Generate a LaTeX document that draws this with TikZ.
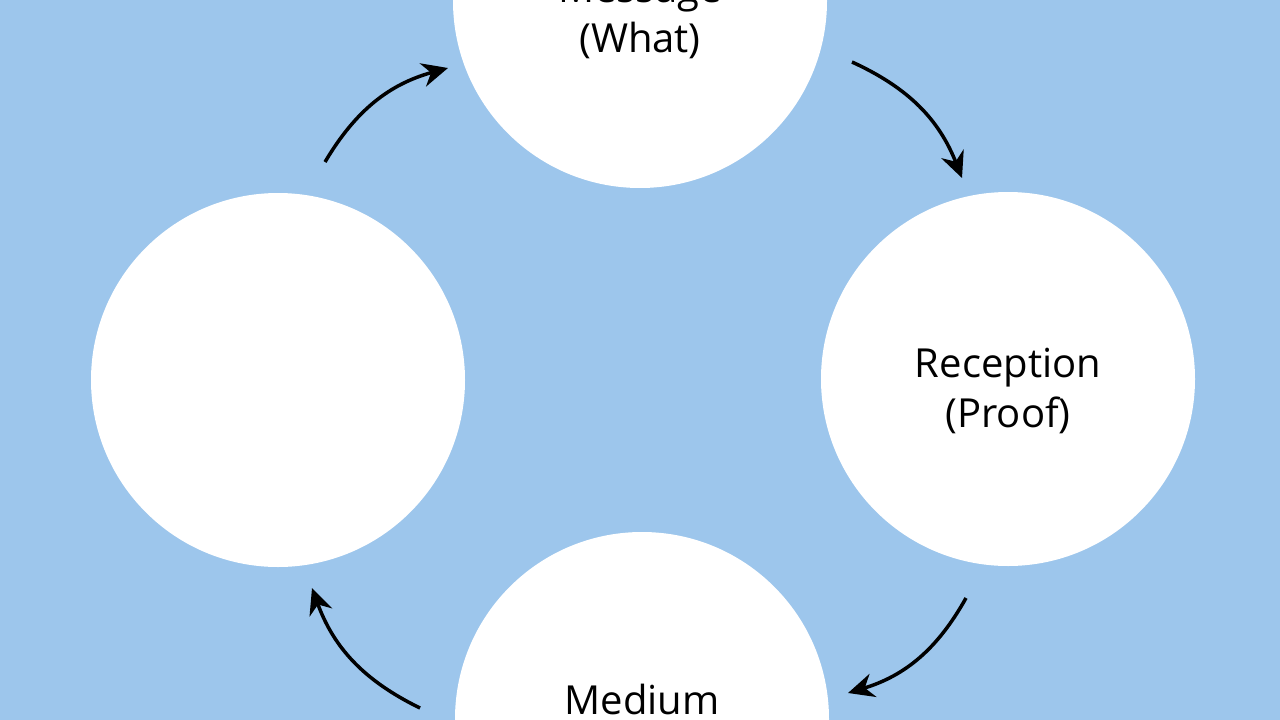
\documentclass[tikz,border=0pt]{standalone}
\usepackage{fontspec}
\setmainfont{Open Sans}
\usetikzlibrary{arrows.meta}
\definecolor{bg}{HTML}{9DC6EC}
\tikzset{
  circ/.style={circle,fill=white,minimum size=374pt,inner sep=0pt},
  lbl/.style={align=center,font=\fontsize{40}{50}\selectfont},
  arr/.style={line width=3.5pt,-{Stealth[length=26pt,width=24pt]}}
}
\begin{document}
\begin{tikzpicture}[x=1pt,y=-1pt]
\fill[bg] (0,0) rectangle (1280,720);
\clip (0,0) rectangle (1280,720);
\useasboundingbox (0,0) rectangle (1280,720);
\node[circ] (top) at (640,1) {};
\node[circ] (right) at (1008,379) {};
\node[circ] (left) at (278,380) {};
\node[circ] (bottom) at (642,719) {};
\node[lbl] (tl) at (640,16) {Message\\(What)};
\node[lbl] (rl) at (1008,391) {Reception\\(Proof)};
\node[lbl] (bl) at (642,724) {Medium\\\phantom{M}};
\coordinate (a1) at (325,162); \coordinate (a2) at (448,68);
\coordinate (b1) at (852,62); \coordinate (b2) at (962,178);
\coordinate (c1) at (966,598); \coordinate (c2) at (848,693);
\coordinate (d1) at (420,708); \coordinate (d2) at (312,588);
\draw[arr] (a1) to[bend left=22] (a2);
\draw[arr] (b1) to[bend left=22] (b2);
\draw[arr] (c1) to[bend left=22] (c2);
\draw[arr] (d1) to[bend left=22] (d2);
\end{tikzpicture}
\end{document}
